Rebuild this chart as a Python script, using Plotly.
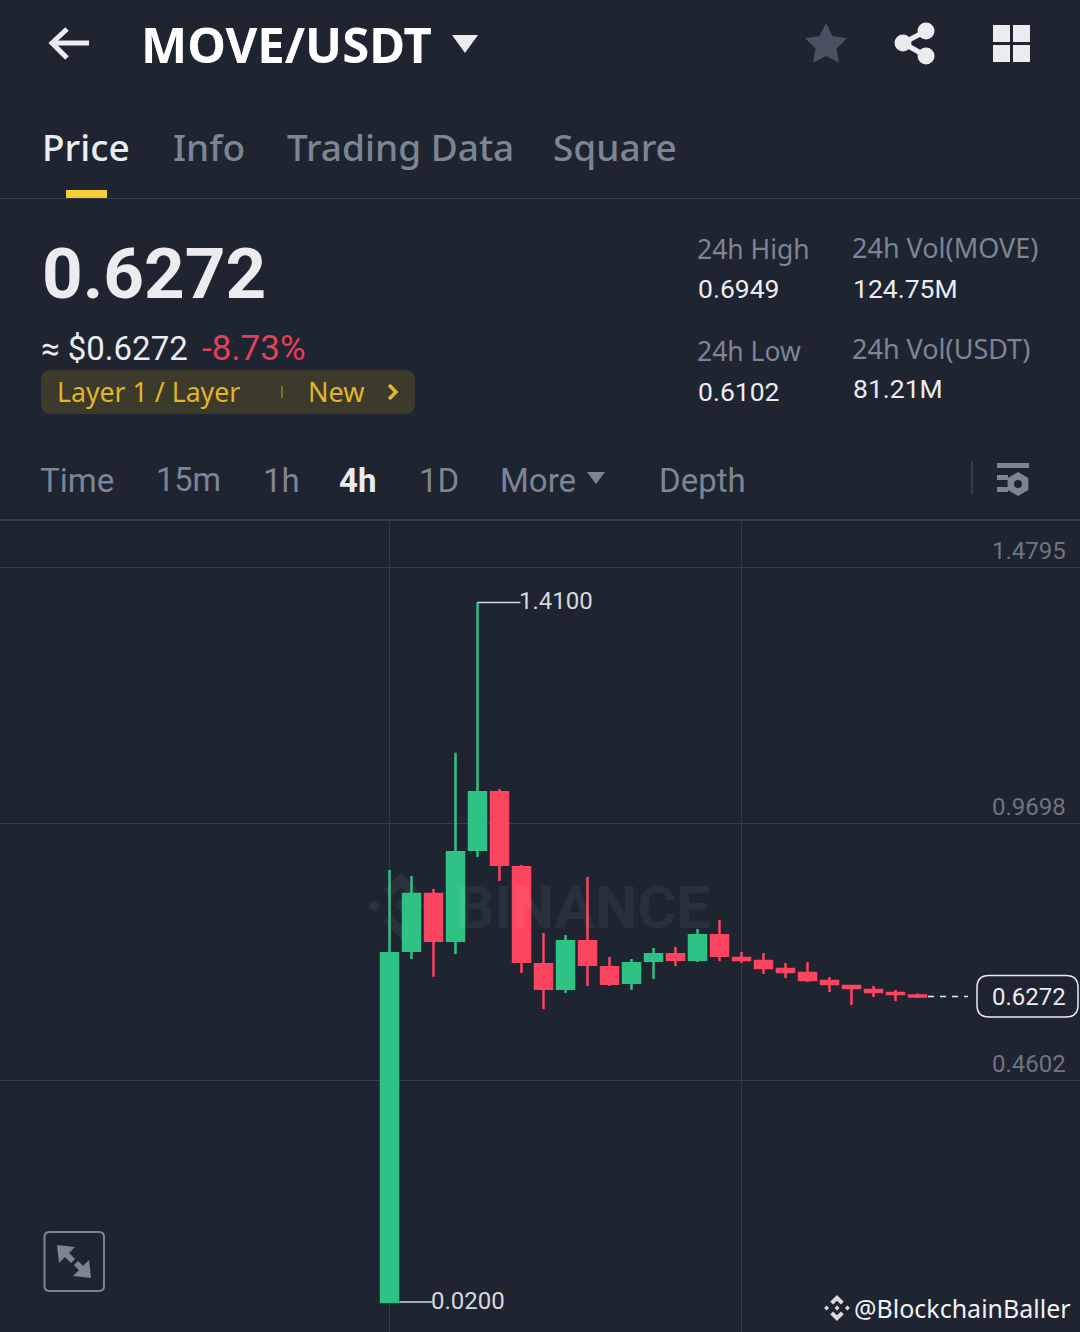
import math
import plotly.graph_objects as go

W, H = 1080, 1332

## candles
candle_idx = list(range(25))
opens = [0.0200, 0.7180, 0.8308, 0.7378, 0.9187, 1.0329, 0.8838, 0.6911, 0.6425, 0.7368, 0.6851, 0.6544, 0.6981,
         0.7110, 0.7001, 0.7487, 0.7035, 0.6976, 0.6817, 0.6737, 0.6578, 0.6479, 0.6399, 0.6340, 0.6290]
highs = [0.8784, 0.8665, 0.8406, 1.1115, 1.4100, 1.0393, 0.8883, 0.7532, 0.7492, 0.8645, 0.7055, 0.7016, 0.7234,
         0.7254, 0.7612, 0.7790, 0.7155, 0.7135, 0.6936, 0.6956, 0.6658, 0.6499, 0.6479, 0.6400, 0.6330]
lows = [0.0200, 0.7016, 0.6664, 0.7115, 0.9042, 0.8565, 0.6737, 0.6022, 0.6340, 0.6479, 0.6479, 0.6400, 0.6618,
        0.6876, 0.6956, 0.6976, 0.6936, 0.6717, 0.6638, 0.6559, 0.6360, 0.6102, 0.6260, 0.6181, 0.6241]
closes = [0.7130, 0.8308, 0.7378, 0.9137, 1.0329, 0.8888, 0.6961, 0.6425, 0.7368, 0.6901, 0.6524, 0.6931, 0.7110,
          0.7001, 0.7487, 0.7080, 0.6996, 0.6837, 0.6757, 0.6598, 0.6519, 0.6439, 0.6360, 0.6320, 0.6272]

price_ticks = [1.4795, 0.9698, 0.4602]
time_grid = [0, 16]
last_price = 0.6272
max_price = 1.4100
min_price = 0.0200

BG = "#1e2430"
GRID = "#363c47"
GREY = "#7c8594"
WHITE = "#eaecef"
GREEN = "#2fc285"
RED = "#fb4560"
YELLOW = "#e0b52d"
CALLOUT = "#d5d8dd"
PLEX = "Noto Sans"
DIN = "Roboto"


def px(x, y):
    return "%.5f %.5f" % (x / W, 1 - y / H)


def path(points, close=True):
    return "M" + "L".join(px(x, y) for x, y in points) + ("Z" if close else "")


def round_rect(x0, y0, x1, y1, r):
    return ("M" + px(x0 + r, y0) + "L" + px(x1 - r, y0) + "Q" + px(x1, y0) + " " + px(x1, y0 + r)
            + "L" + px(x1, y1 - r) + "Q" + px(x1, y1) + " " + px(x1 - r, y1)
            + "L" + px(x0 + r, y1) + "Q" + px(x0, y1) + " " + px(x0, y1 - r)
            + "L" + px(x0, y0 + r) + "Q" + px(x0, y0) + " " + px(x0 + r, y0) + "Z")


shapes = []


def fill(d, color, layer="above"):
    shapes.append(dict(type="path", path=d, xref="paper", yref="paper", fillcolor=color,
                       line=dict(width=0), layer=layer))


def stroke(d, color, width):
    shapes.append(dict(type="path", path=d, xref="paper", yref="paper",
                       line=dict(color=color, width=width)))


def circle(cx, cy, r, color):
    shapes.append(dict(type="circle", xref="paper", yref="paper", x0=(cx - r) / W, x1=(cx + r) / W,
                       y0=1 - (cy + r) / H, y1=1 - (cy - r) / H, fillcolor=color, line=dict(width=0)))


def logo(cx, cy, r, color, layer="above"):
    for dx in (-0.8, 0, 0.8):
        s = 0.19
        fill(path([(cx + (dx - s) * r, cy), (cx + dx * r, cy - s * r), (cx + (dx + s) * r, cy), (cx + dx * r, cy + s * r)]),
             color, layer)
    for sgn in (-1, 1):
        chev = [(0, 1), (0.52, 0.48), (0.3, 0.26), (0, 0.56), (-0.3, 0.26), (-0.52, 0.48)]
        fill(path([(cx + a * r, cy + sgn * b * r) for a, b in chev]), color, layer)


annotations = []


def label(x, y, text, size, color=GREY, font=PLEX, anchor="left", bold=False, weight=None):
    f = dict(family=font, size=size, color=color)
    if weight:
        f["weight"] = weight
    annotations.append(dict(xref="paper", yref="paper", x=x / W, y=1 - y / H, text="<b>%s</b>" % text if bold else text,
                            showarrow=False, xanchor=anchor, yanchor="middle", borderpad=0, font=f))


fig = go.Figure(go.Candlestick(
    x=candle_idx, open=opens, high=highs, low=lows, close=closes,
    whiskerwidth=0,
    increasing=dict(line=dict(color=GREEN, width=2.5), fillcolor=GREEN),
    decreasing=dict(line=dict(color=RED, width=2.5), fillcolor=RED),
    showlegend=False,
))

# watermark goes under everything
logo(401, 906, 33, "#2b313d", layer="below")
label(455, 907, "BINANCE", 60, "rgba(255,255,255,0.055)", DIN, bold=True)

# header
stroke(path([(89, 43), (52, 43)], False), WHITE, 5)
stroke(path([(67, 29), (52, 43), (67, 58)], False), WHITE, 5)
label(140, 44, "MOVE/USDT", 49, "#ffffff", PLEX, bold=True)
fill(path([(452, 35), (478, 35), (465, 53)]), WHITE)
star = []
for i in range(10):
    r = 22 if i % 2 == 0 else 11
    a = -math.pi / 2 + i * math.pi / 5
    star.append((826 + r * math.cos(a), 45 + r * math.sin(a)))
fill(path(star), "#495261")
stroke(path([(926, 31), (903, 43), (926, 56)], False), WHITE, 5)
circle(926, 31, 8.5, WHITE)
circle(903, 43, 8.5, WHITE)
circle(926, 56, 8.5, WHITE)
for x0, y0 in [(993, 25), (1013, 25), (993, 45), (1013, 45)]:
    fill(path([(x0, y0), (x0 + 17, y0), (x0 + 17, y0 + 17), (x0, y0 + 17)]), WHITE)

# tabs
label(41, 147, "Price", 37, WHITE, weight=500)
label(172, 147, "Info", 37, weight=500)
label(286, 147, "Trading Data", 37, weight=500)
label(552, 147, "Square", 37, weight=500)
fill(path([(66, 190), (107, 190), (107, 198), (66, 198)]), "#f5cf3a")
stroke(path([(0, 198.5), (W, 198.5)], False), GRID, 1)

# price block
label(41, 273, "0.6272", 71, WHITE, DIN, bold=True)
label(40, 348, "≈ $0.6272", 33, WHITE, DIN)
label(201, 348, "-8.73%", 35, "#e0405a", DIN)
fill(round_rect(41, 370, 415, 414, 10), "#3c3a2b")
label(56, 391, "Layer 1 / Layer", 26.7, YELLOW)
stroke(path([(282, 386), (282, 398)], False), "#7d6f2c", 2)
label(307, 391, "New", 27, YELLOW)
stroke(path([(389, 385), (396, 392), (389, 399)], False), YELLOW, 3.5)

label(696, 249, "24h High", 26.5)
label(697, 289, "0.6949", 26.5, WHITE, DIN)
label(696, 351, "24h Low", 26.5)
label(697, 391, "0.6102", 26.5, WHITE, DIN)
label(851, 247, "24h Vol(MOVE)", 27)
label(852, 288, "124.75M", 26.5, WHITE, DIN)
label(851, 349, "24h Vol(USDT)", 27)
label(852, 389, "81.21M", 26.5, WHITE, DIN)

# interval row
label(39, 480, "Time", 33, font=DIN)
label(155, 480, "15m", 32.5, font=DIN)
label(262, 480, "1h", 33, font=DIN)
label(338, 480, "4h", 33, WHITE, DIN, bold=True)
label(418, 480, "1D", 33, font=DIN)
label(499, 480, "More", 33, font=DIN)
fill(path([(587, 472), (605, 472), (596, 484)]), GREY)
label(658, 480, "Depth", 33, font=DIN)
stroke(path([(972, 461), (972, 494)], False), GRID, 2)
fill(path([(997, 463), (1029, 463), (1029, 468), (997, 468)]), GREY)
fill(path([(997, 475), (1008, 475), (1008, 480), (997, 480)]), GREY)
fill(path([(997, 487), (1008, 487), (1008, 492), (997, 492)]), GREY)
fill(path([(1018 + 12 * math.cos(math.pi / 6 + i * math.pi / 3), 484 + 12 * math.sin(math.pi / 6 + i * math.pi / 3))
           for i in range(6)]), GREY)
circle(1018, 484, 4, BG)
stroke(path([(0, 520), (W, 520)], False), GRID, 2)

# price labels on the chart
for t in price_ticks:
    annotations.append(dict(xref="paper", yref="y", x=1067 / W, y=t, yshift=16.5, text="%.4f" % t, showarrow=False,
                            xanchor="right", yanchor="middle", borderpad=0,
                            font=dict(family=DIN, size=24, color="#6d7580")))

shapes.append(dict(type="line", xref="paper", yref="y", x0=928 / W, x1=968 / W, y0=last_price, y1=last_price,
                   line=dict(color=WHITE, width=1.5, dash="6px,6px")))
stroke(round_rect(977, 975.5, 1078, 1017, 12), WHITE, 1.5)
annotations.append(dict(xref="paper", yref="y", x=1029 / W, y=last_price, yshift=-1, text="%.4f" % last_price,
                        showarrow=False, xanchor="center", yanchor="middle", borderpad=0,
                        font=dict(family=DIN, size=24, color=WHITE)))

# high / low callouts
shapes.append(dict(type="line", xref="x", yref="y", x0=candle_idx[4], x1=candle_idx[6] - 0.05, y0=max_price, y1=max_price,
                   line=dict(color=CALLOUT, width=1.5)))
annotations.append(dict(xref="paper", yref="y", x=518 / W, y=max_price, yshift=1, text="%.4f" % max_price, showarrow=False,
                        xanchor="left", yanchor="middle", borderpad=0,
                        font=dict(family=DIN, size=24, color=CALLOUT)))
shapes.append(dict(type="line", xref="x", yref="y", x0=candle_idx[0] + 0.45, x1=candle_idx[2] - 0.05, y0=min_price, y1=min_price,
                   line=dict(color=CALLOUT, width=1.5)))
annotations.append(dict(xref="paper", yref="y", x=430 / W, y=min_price, yshift=1.5, text="%.4f" % min_price, showarrow=False,
                        xanchor="left", yanchor="middle", borderpad=0,
                        font=dict(family=DIN, size=24, color=CALLOUT)))

# expand button
stroke(round_rect(44.5, 1232, 104, 1291, 5), GREY, 2)
fill(path([(57, 1245), (75, 1247), (59, 1263)]), GREY)
stroke(path([(65, 1253), (73, 1261)], False), GREY, 6)
fill(path([(91, 1278), (73, 1276), (89, 1260)]), GREY)
stroke(path([(83, 1270), (76, 1263)], False), GREY, 6)

# credit
logo(837, 1308, 13, "#d8dade")
label(853, 1308, "@BlockchainBaller", 25, "#f0f1f3")

fig.update_layout(
    width=W, height=H,
    margin=dict(l=0, r=0, t=0, b=0),
    paper_bgcolor=BG, plot_bgcolor=BG,
    showlegend=False,
    boxgap=0.227, boxgroupgap=0,
    shapes=shapes, annotations=annotations,
    xaxis=dict(range=[-17.705, 31.386], domain=[0, 1], tickmode="array", tickvals=time_grid, showticklabels=False,
               showgrid=True, gridcolor=GRID, gridwidth=1, zeroline=False, showline=False, ticks="",
               rangeslider=dict(visible=False)),
    yaxis=dict(range=[-0.0396, 1.5738], domain=[0, 812 / H], tickmode="array", tickvals=price_ticks,
               showticklabels=False, showgrid=True, gridcolor=GRID, gridwidth=1, zeroline=False, showline=False,
               ticks=""),
)

fig.write_html("out.html", config=dict(displayModeBar=False),
               post_script="document.body.style.margin='0';document.documentElement.style.overflow='hidden';")
